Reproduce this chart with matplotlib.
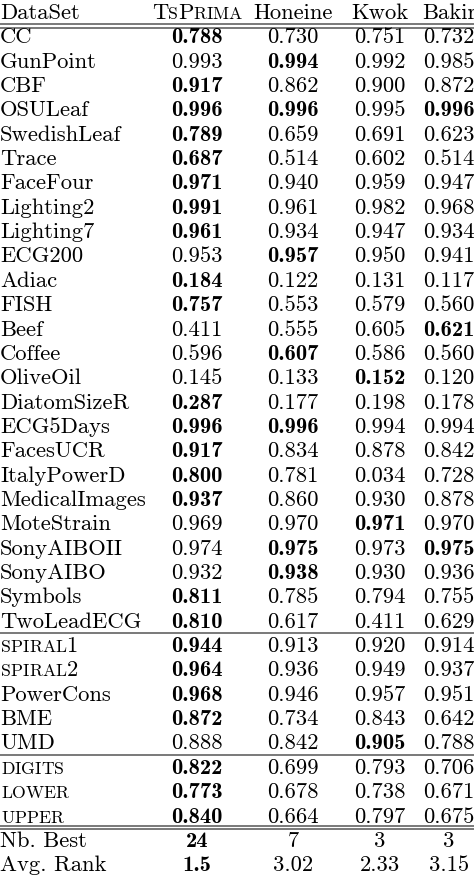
import matplotlib
matplotlib.use("Agg")
import matplotlib.pyplot as plt
import numpy as np

methods = ["TsPrima", "Honeine", "Kwok", "Bakir"]
datasets = ["CC", "GunPoint", "CBF", "OSULeaf", "SwedishLeaf", "Trace", "FaceFour",
            "Lighting2", "Lighting7", "ECG200", "Adiac", "FISH", "Beef", "Coffee",
            "OliveOil", "DiatomSizeR", "ECG5Days", "FacesUCR", "ItalyPowerD",
            "MedicalImages", "MoteStrain", "SonyAIBOII", "SonyAIBO", "Symbols",
            "TwoLeadECG", "spiral1", "spiral2", "PowerCons", "BME", "UMD",
            "digits", "lower", "upper"]
smallcaps_sets = ["spiral1", "spiral2", "digits", "lower", "upper"]
scores = [
    [0.788, 0.730, 0.751, 0.732], [0.993, 0.994, 0.992, 0.985],
    [0.917, 0.862, 0.900, 0.872], [0.996, 0.996, 0.995, 0.996],
    [0.789, 0.659, 0.691, 0.623], [0.687, 0.514, 0.602, 0.514],
    [0.971, 0.940, 0.959, 0.947], [0.991, 0.961, 0.982, 0.968],
    [0.961, 0.934, 0.947, 0.934], [0.953, 0.957, 0.950, 0.941],
    [0.184, 0.122, 0.131, 0.117], [0.757, 0.553, 0.579, 0.560],
    [0.411, 0.555, 0.605, 0.621], [0.596, 0.607, 0.586, 0.560],
    [0.145, 0.133, 0.152, 0.120], [0.287, 0.177, 0.198, 0.178],
    [0.996, 0.996, 0.994, 0.994], [0.917, 0.834, 0.878, 0.842],
    [0.800, 0.781, 0.034, 0.728], [0.937, 0.860, 0.930, 0.878],
    [0.969, 0.970, 0.971, 0.970], [0.974, 0.975, 0.973, 0.975],
    [0.932, 0.938, 0.930, 0.936], [0.811, 0.785, 0.794, 0.755],
    [0.810, 0.617, 0.411, 0.629], [0.944, 0.913, 0.920, 0.914],
    [0.964, 0.936, 0.949, 0.937], [0.968, 0.946, 0.957, 0.951],
    [0.872, 0.734, 0.843, 0.642], [0.888, 0.842, 0.905, 0.788],
    [0.822, 0.699, 0.793, 0.706], [0.773, 0.678, 0.738, 0.671],
    [0.840, 0.664, 0.797, 0.675]]
nb_best = ["24", "7", "3", "3"]
avg_rank = ["1.5", "3.02", "2.33", "3.15"]

W, H = 474, 879
fig = plt.figure(figsize=(W / 100, H / 100), dpi=100)
ax = fig.add_axes([0, 0, 1, 1])
ax.set_xlim(0, W)
ax.set_ylim(H, 0)
ax.axis("off")

FS = 16.3
reg = dict(family="cmr10", fontsize=FS)
bld = dict(family="cmb10", fontsize=FS)
col_x = [197, 293, 380, 449]
row_y = lambda i: 12 + 24.35 * i
r = fig.canvas.get_renderer()


def smallcaps(x, y, s, ha="left"):
    # fake small caps: lowercase -> smaller uppercase
    pieces = []
    for ch in s:
        big = not ch.islower()
        pieces.append((ch.upper(), FS if big else FS * 0.78))
    widths = []
    for t, fs in pieces:
        tt = ax.text(0, 0, t, family="cmr10", fontsize=fs)
        bb = tt.get_window_extent(r)
        widths.append(bb.width)
        tt.remove()
    total = sum(widths)
    cx = x - total / 2 if ha == "center" else x
    for (t, fs), w in zip(pieces, widths):
        ax.text(cx, y, t, family="cmr10", fontsize=fs, va="baseline")
        cx += w


base = 7  # baseline offset from row centre
ax.text(0, row_y(0) + base, "DataSet", va="baseline", **reg)
smallcaps(col_x[0], row_y(0) + base, "TsPrima", ha="center")
for j, m in enumerate(methods[1:], 1):
    ax.text(col_x[j], row_y(0) + base, m, ha="center", va="baseline", **reg)

for i, (name, vals) in enumerate(zip(datasets, scores), 1):
    y = row_y(i) + base
    if name in smallcaps_sets:
        smallcaps(1, y, name.lower())
    else:
        ax.text(0, y, name, va="baseline", **reg)
    best = max(vals)
    for j, v in enumerate(vals):
        ax.text(col_x[j], y, f"{v:.3f}", ha="center", va="baseline",
                **(bld if v == best else reg))

for k, (label, vals) in enumerate([("Nb. Best", nb_best), ("Avg. Rank", avg_rank)]):
    y = row_y(len(datasets) + 1 + k) + base
    ax.text(0, y, label, va="baseline", **reg)
    for j, v in enumerate(vals):
        ax.text(col_x[j], y, v, ha="center", va="baseline", **(bld if j == 0 else reg))

lc = "#555555"
for yy in [25, 28.5, 633.5, 755.5, 827, 830.5]:
    ax.plot([0, W], [yy, yy], color=lc, lw=1.1)

fig.savefig("out.png", dpi=100)
